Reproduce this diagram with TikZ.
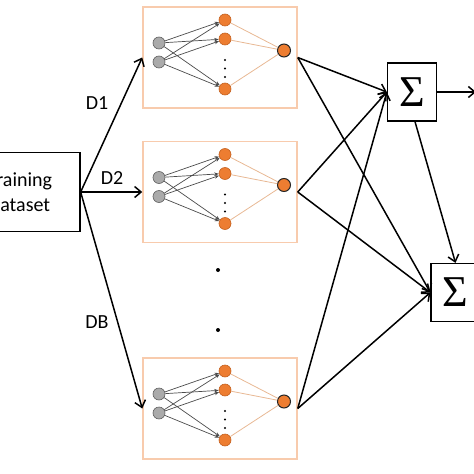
\documentclass[tikz,border=0pt]{standalone}
\usepackage{fontspec}
\setmainfont{Carlito}
\newfontfamily\sigfont{Liberation Serif}
\definecolor{frameC}{RGB}{248, 203, 173}
\definecolor{hidC}{RGB}{237, 125, 49}
\definecolor{hidB}{RGB}{196, 96, 30}
\definecolor{inC}{RGB}{170, 170, 170}
\definecolor{inB}{RGB}{95, 95, 95}
\definecolor{wgtC}{RGB}{75, 75, 75}
\definecolor{outW}{RGB}{232, 184, 148}
\usetikzlibrary{arrows.meta, positioning, calc}

\begin{document}
\begin{tikzpicture}[x=1pt, y=-1pt,
    netbox/.style={draw=frameC, line width=1.5pt, minimum width=154pt, minimum height=101pt, inner sep=0pt},
    innode/.style={circle, draw=inB, fill=inC, line width=0.6pt, minimum size=12pt, inner sep=0pt},
    hidnode/.style={circle, draw=hidB, fill=hidC, line width=0.6pt, minimum size=12pt, inner sep=0pt},
    outnode/.style={circle, draw=black!85, fill=hidC, line width=1pt, minimum size=13pt, inner sep=0pt},
    sumbox/.style={draw, line width=1.3pt, minimum width=49pt, minimum height=58pt, inner sep=0pt, font=\sigfont\fontsize{44}{44}\selectfont},
    link/.style={line width=1.5pt, -{Straight Barb[length=6.5pt, width=11pt]}},
    wgt/.style={draw=wgtC, line width=0.7pt, -{Stealth[length=4.5pt, width=3.5pt]}},
    lbl/.style={font=\fontsize{20}{25}\selectfont}]
    \useasboundingbox (0,0) rectangle (474,474);

    % Training data
    \node[draw, line width=1.3pt, minimum width=120pt, minimum height=79pt, align=center, lbl] (data) at (20,192) {Training\\dataset};

    % Combiners
    \node[sumbox] (sig1) at (412,92) {Σ};
    \node[sumbox] (sig2) at (455.5,292.5) {Σ};
    \coordinate (out1) at (476,92);

    % Bagged networks
    \foreach \i/\c in {1/57.5, 2/192, 3/408.5} {
        \node[netbox] (net\i) at (220,\c) {};
        \node[innode] (in\i-1) at (159,\c-14.5) {};
        \node[innode] (in\i-2) at (159,\c+4.5) {};
        \node[hidnode] (hid\i-1) at (225,\c-37.5) {};
        \node[hidnode] (hid\i-2) at (225,\c-18.5) {};
        \node[hidnode] (hid\i-3) at (225,\c+31.5) {};
        \node[outnode] (out\i-1) at (284,\c-7) {};
        \foreach \d in {2.5, 11, 19.5}
            \fill (225,\c+\d) circle (1.1pt);
        \foreach \a in {1,2}
            \foreach \b in {1,2,3}
                \draw[wgt] (in\i-\a) -- (hid\i-\b);
        \foreach \b in {1,2,3}
            \draw[outW, line width=0.8pt] (hid\i-\b) -- (out\i-1);
        \draw[link] (data.east) -- (net\i.west);
        \draw[link] (net\i.east) -- (sig1.west);
        \draw[link] (net\i.east) -- (sig2.west);
    }

    % Sample labels
    \node[lbl] (d1) at (97,103) {D1};
    \node[lbl] (d2) at (112,178) {D2};
    \node[lbl] (db) at (97,322) {DB};

    % Omitted networks
    \node[circle, fill, inner sep=0pt, minimum size=4pt] (gap1) at (218,270) {};
    \node[circle, fill, inner sep=0pt, minimum size=4pt] (gap2) at (218,330) {};

    % Outputs
    \draw[link] (sig1.east) -- (out1);
    \draw[link] ($(sig1.south)+(3,0)$) -- (sig2.north);
\end{tikzpicture}
\end{document}
